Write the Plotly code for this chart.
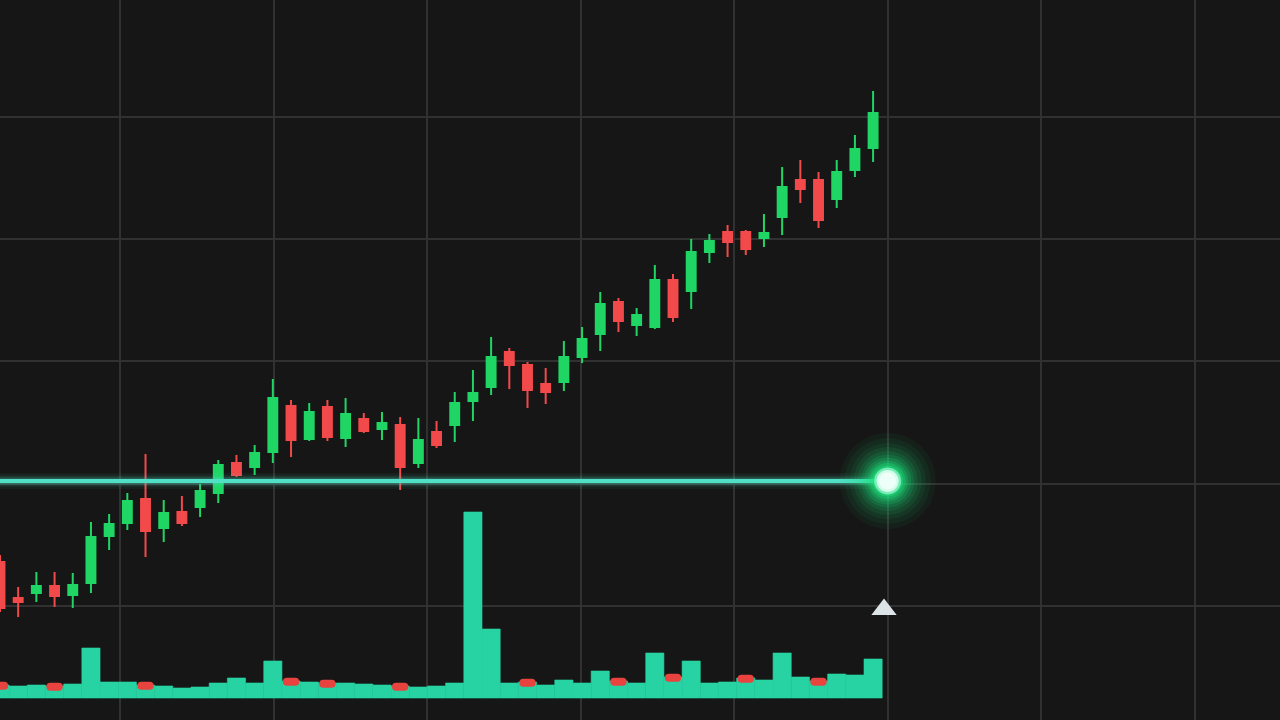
import plotly.graph_objects as go

# ---- data ----
idx = list(range(49))
opens = [43.60, 40.65, 41.06, 41.64, 40.90, 41.88, 45.73, 46.79, 48.75, 46.38,
         47.69, 48.10, 49.24, 51.70, 51.37, 52.60, 56.36, 53.66, 56.28, 53.74,
         55.30, 54.48, 54.81, 51.70, 54.23, 54.81, 56.77, 57.91, 60.78, 59.71,
         58.16, 58.32, 60.37, 62.25, 64.87, 62.99, 62.82, 66.67, 65.77, 68.96,
         70.59, 70.59, 70.10, 71.82, 74.85, 74.85, 73.29, 75.66, 77.46]
highs = [44.17, 41.55, 42.78, 42.78, 42.70, 46.87, 47.53, 49.24, 52.43, 48.67,
         49.00, 49.98, 51.94, 52.35, 53.17, 58.57, 56.85, 56.61, 56.85, 57.01,
         55.79, 55.87, 55.46, 55.38, 55.13, 57.51, 59.30, 62.00, 61.10, 59.96,
         59.47, 61.68, 62.82, 65.69, 65.19, 64.38, 67.89, 67.16, 70.02, 70.43,
         71.17, 70.76, 72.07, 75.91, 76.48, 75.50, 76.48, 78.53, 82.13]
lows = [39.51, 39.10, 40.33, 39.92, 39.84, 41.06, 44.58, 46.22, 44.01, 45.24,
        46.54, 47.28, 48.43, 50.55, 50.72, 51.70, 52.19, 53.50, 53.50, 53.01,
        54.15, 53.58, 49.49, 51.29, 52.92, 53.42, 55.13, 57.26, 57.75, 56.20,
        56.52, 57.59, 59.88, 60.86, 62.41, 62.09, 62.66, 63.23, 64.29, 68.06,
        68.55, 68.71, 69.37, 70.35, 72.97, 70.92, 72.56, 75.09, 76.32]
closes = [39.84, 40.33, 41.64, 40.82, 41.72, 45.64, 46.71, 48.59, 46.13, 47.61,
          46.79, 49.41, 51.53, 50.72, 52.52, 57.01, 53.58, 55.87, 53.82, 55.71,
          54.31, 54.97, 51.37, 53.58, 53.17, 56.61, 57.42, 60.37, 59.71, 57.67,
          57.51, 60.37, 61.84, 64.70, 63.31, 63.80, 66.67, 63.64, 68.96, 69.86,
          69.78, 69.20, 70.51, 74.27, 74.11, 71.57, 75.50, 77.38, 80.33]
volume = [130, 120, 130, 120, 140, 500, 160, 160, 130, 120,
          100, 110, 150, 200, 150, 370, 170, 160, 150, 150,
          140, 130, 120, 110, 120, 150, 1860, 690, 150, 160,
          130, 180, 150, 270, 170, 150, 450, 210, 370, 150,
          160, 200, 180, 450, 210, 170, 240, 230, 390]
red_volume_idx = [0, 3, 8, 16, 18, 22, 29, 34, 37, 41, 45]
red_cap = 80

level_price = 50.22
level_x = [-1, 48.8]
marker_x = 48.6
marker_price = 39.70

# ---- style ----
BG = "#161616"
GRID = "#313131"
GREEN = "#1fd665"
RED = "#f2494a"
TEAL = "#27d3a3"
LINE = "#4fe0c6"

fig = go.Figure()

# volume (secondary axis)
fig.add_trace(go.Bar(
    x=idx, y=volume, width=1.0, yaxis="y2",
    marker=dict(color=TEAL, line=dict(color=TEAL, width=0.6)),
    hoverinfo="skip", showlegend=False))
fig.add_trace(go.Bar(
    x=red_volume_idx,
    y=[red_cap] * len(red_volume_idx),
    base=[volume[i] - red_cap * 0.6 for i in red_volume_idx],
    width=0.9, yaxis="y2",
    marker=dict(color="#e8433f", line=dict(width=0), cornerradius=5),
    hoverinfo="skip", showlegend=False))

# candles
fig.add_trace(go.Candlestick(
    x=idx, open=opens, high=highs, low=lows, close=closes,
    increasing=dict(line=dict(color=GREEN, width=2), fillcolor=GREEN),
    decreasing=dict(line=dict(color=RED, width=2), fillcolor=RED),
    whiskerwidth=0, showlegend=False, hoverinfo="skip"))

# level line with glow
for w, op in [(16, 0.05), (11, 0.10), (7, 0.22)]:
    fig.add_trace(go.Scatter(
        x=level_x, y=[level_price, level_price], mode="lines",
        line=dict(color=LINE, width=w), opacity=op,
        hoverinfo="skip", showlegend=False))
fig.add_trace(go.Scatter(
    x=level_x, y=[level_price, level_price], mode="lines",
    line=dict(color=LINE, width=4),
    hoverinfo="skip", showlegend=False))

# glowing end dot
glow_sizes = [96, 86, 76, 68, 60, 53, 47, 41, 36, 31]
glow_ops = [0.05, 0.06, 0.07, 0.09, 0.11, 0.14, 0.18, 0.24, 0.32, 0.45]
for s, op in zip(glow_sizes, glow_ops):
    fig.add_trace(go.Scatter(
        x=[level_x[-1]], y=[level_price], mode="markers",
        marker=dict(size=s, color="#1fe37c", opacity=op, line=dict(width=0)),
        hoverinfo="skip", showlegend=False))
for s, op, c in [(27, 0.8, "#8ff5c8"), (22, 1.0, "#d6fbeb"), (17, 1.0, "#eefffa")]:
    fig.add_trace(go.Scatter(
        x=[level_x[-1]], y=[level_price], mode="markers",
        marker=dict(size=s, color=c, opacity=op, line=dict(width=0)),
        hoverinfo="skip", showlegend=False))

# small triangle marker
fig.add_trace(go.Scatter(
    x=[marker_x], y=[marker_price], mode="markers",
    marker=dict(symbol="triangle-up", size=22, color="#dde4e8",
                line=dict(width=0)),
    hoverinfo="skip", showlegend=False))

fig.update_layout(
    width=1280, height=720,
    margin=dict(l=0, r=0, t=0, b=0),
    paper_bgcolor=BG, plot_bgcolor=BG,
    barmode="overlay", boxgap=0.3,
    showlegend=False,
    xaxis=dict(range=[0, 70.37], showticklabels=False, ticks="",
               showgrid=True, gridcolor=GRID, gridwidth=1.5,
               tick0=6.6, dtick=8.44, zeroline=False,
               rangeslider=dict(visible=False), fixedrange=True),
    yaxis=dict(range=[30.67, 89.57], showticklabels=False, ticks="",
               showgrid=True, gridcolor=GRID, gridwidth=1.5,
               tick0=40, dtick=10, zeroline=False, fixedrange=True),
    yaxis2=dict(range=[-220, 6980], overlaying="y", showgrid=False,
                showticklabels=False, zeroline=False, fixedrange=True),
)

fig.write_html("out.html", config={"displayModeBar": False},
               post_script="document.body.style.margin='0';document.body.style.background='#161616';")
